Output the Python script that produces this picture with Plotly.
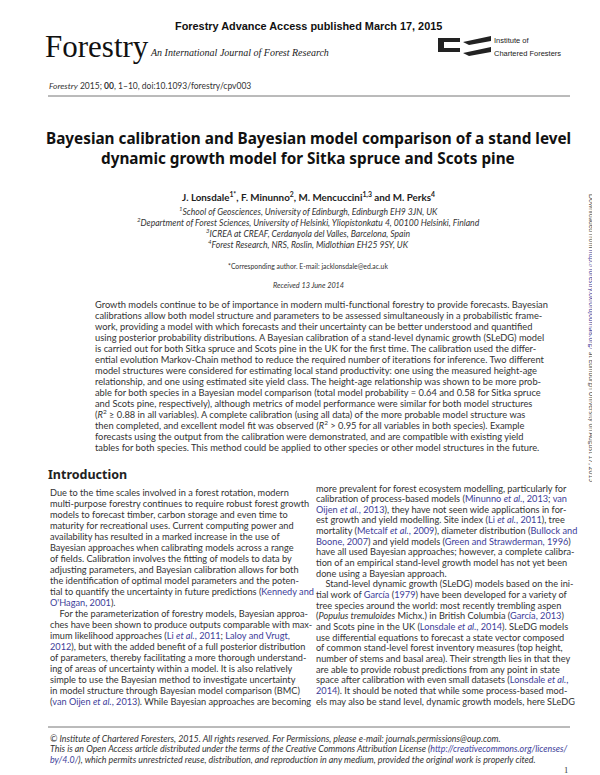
import plotly.graph_objects as go

BODY_FONT = "Lato"
LINK = "#3d3d99"
def L(t):
    return f"<span style='color:{LINK}'>{t}</span>"

header_lines = ["Forestry Advance Access published March 17, 2015"]
title_lines = ["Bayesian calibration and Bayesian model comparison of a stand level",
               "dynamic growth model for Sitka spruce and Scots pine"]
authors = "J. Lonsdale<sup>1*</sup>, F. Minunno<sup>2</sup>, M. Mencuccini<sup>1,3</sup> and M. Perks<sup>4</sup>"
affiliations = ["<sup>1</sup>School of Geosciences, University of Edinburgh, Edinburgh EH9 3JN, UK",
                "<sup>2</sup>Department of Forest Sciences, University of Helsinki, Yliopistonkatu 4, 00100 Helsinki, Finland",
                "<sup>3</sup>ICREA at CREAF, Cerdanyola del Valles, Barcelona, Spain",
                "<sup>4</sup>Forest Research, NRS, Roslin, Midlothian EH25 9SY, UK"]
abstract_lines = [
 "Growth models continue to be of importance in modern multi-functional forestry to provide forecasts. Bayesian",
 "calibrations allow both model structure and parameters to be assessed simultaneously in a probabilistic frame-",
 "work, providing a model with which forecasts and their uncertainty can be better understood and quantified",
 "using posterior probability distributions. A Bayesian calibration of a stand-level dynamic growth (SLeDG) model",
 "is carried out for both Sitka spruce and Scots pine in the UK for the first time. The calibration used the differ-",
 "ential evolution Markov-Chain method to reduce the required number of iterations for inference. Two different",
 "model structures were considered for estimating local stand productivity: one using the measured height-age",
 "relationship, and one using estimated site yield class. The height-age relationship was shown to be more prob-",
 "able for both species in a Bayesian model comparison (total model probability = 0.64 and 0.58 for Sitka spruce",
 "and Scots pine, respectively), although metrics of model performance were similar for both model structures",
 "(<i>R</i><sup>2</sup> ≥ 0.88 in all variables). A complete calibration (using all data) of the more probable model structure was",
 "then completed, and excellent model fit was observed (<i>R</i><sup>2</sup> > 0.95 for all variables in both species). Example",
 "forecasts using the output from the calibration were demonstrated, and are compatible with existing yield",
 "tables for both species. This method could be applied to other species or other model structures in the future.",
]
left_lines = [
 "Due to the time scales involved in a forest rotation, modern",
 "multi-purpose forestry continues to require robust forest growth",
 "models to forecast timber, carbon storage and even time to",
 "maturity for recreational uses. Current computing power and",
 "availability has resulted in a marked increase in the use of",
 "Bayesian approaches when calibrating models across a range",
 "of fields. Calibration involves the fitting of models to data by",
 "adjusting parameters, and Bayesian calibration allows for both",
 "the identification of optimal model parameters and the poten-",
 "tial to quantify the uncertainty in future predictions (" + L("Kennedy and"),
 L("O'Hagan, 2001") + ").",
 "    For the parameterization of forestry models, Bayesian approa-",
 "ches have been shown to produce outputs comparable with max-",
 "imum likelihood approaches (" + L("Li <i>et al.</i>, 2011") + "; " + L("Laloy and Vrugt,"),
 L("2012") + "), but with the added benefit of a full posterior distribution",
 "of parameters, thereby facilitating a more thorough understand-",
 "ing of areas of uncertainty within a model. It is also relatively",
 "simple to use the Bayesian method to investigate uncertainty",
 "in model structure through Bayesian model comparison (BMC)",
 "(" + L("van Oijen <i>et al.</i>, 2013") + "). While Bayesian approaches are becoming",
]
right_lines = [
 "more prevalent for forest ecosystem modelling, particularly for",
 "calibration of process-based models (" + L("Minunno <i>et al.</i>, 2013") + "; " + L("van"),
 L("Oijen <i>et al.</i>, 2013") + "), they have not seen wide applications in for-",
 "est growth and yield modelling. Site index (" + L("Li <i>et al.</i>, 2011") + "), tree",
 "mortality (" + L("Metcalf <i>et al.</i>, 2009") + "), diameter distribution (" + L("Bullock and"),
 L("Boone, 2007") + ") and yield models (" + L("Green and Strawderman, 1996") + ")",
 "have all used Bayesian approaches; however, a complete calibra-",
 "tion of an empirical stand-level growth model has not yet been",
 "done using a Bayesian approach.",
 "    Stand-level dynamic growth (SLeDG) models based on the ini-",
 "tial work of " + L("García") + " (" + L("1979") + ") have been developed for a variety of",
 "tree species around the world: most recently trembling aspen",
 "(<i>Populus tremuloides</i> Michx.) in British Columbia (" + L("García, 2013") + ")",
 "and Scots pine in the UK (" + L("Lonsdale <i>et al.</i>, 2014") + "). SLeDG models",
 "use differential equations to forecast a state vector composed",
 "of common stand-level forest inventory measures (top height,",
 "number of stems and basal area). Their strength lies in that they",
 "are able to provide robust predictions from any point in state",
 "space after calibration with even small datasets (" + L("Lonsdale <i>et al.</i>,"),
 L("2014") + "). It should be noted that while some process-based mod-",
 "els may also be stand level, dynamic growth models, here SLeDG",
]
footer_lines = [
 "© Institute of Chartered Foresters, 2015. All rights reserved. For Permissions, please e-mail: journals.permissions@oup.com.",
 "This is an Open Access article distributed under the terms of the Creative Commons Attribution License (" + L("http://creativecommons.org/licenses/"),
 L("by/4.0/") + "), which permits unrestricted reuse, distribution, and reproduction in any medium, provided the original work is properly cited.",
]
side_text = "Downloaded from " + L("http://forestry.oxfordjournals.org/") + " at Edinburgh University on August 17, 2015"

ann = []
def add(x, y, text, size, xanchor="left", color="#333", family=BODY_FONT, angle=0):
    ann.append(dict(x=x, y=y, xref="x", yref="y", text=text, showarrow=False,
                    xanchor=xanchor, yanchor="middle", align=xanchor if xanchor != "center" else "center",
                    font=dict(size=size, color=color, family=family), textangle=angle,
                    borderpad=0))

add(300, 18, "<b>" + header_lines[0] + "</b>", 10.9, "center", "#111", "Liberation Sans")
add(36, 38, "Forestry", 31, "left", "#111", "Liberation Serif")
add(141, 44, "<i>An International Journal of Forest Research</i>", 10, "left", "#222", "Liberation Serif")
add(485, 32, "Institute of", 7.5, "left", "#222", "Liberation Sans")
add(485, 45, "Chartered Foresters", 7.5, "left", "#222", "Liberation Sans")
add(40, 78, "<i>Forestry</i> 2015; <b>00</b>, 1–10, doi:10.1093/forestry/cpv003", 8.5, "left", "#333")
for i, t in enumerate(title_lines):
    add(300, 130 + i * 19.5, "<b>" + t + "</b>", 15.3, "center", "#111", "Noto Sans")
add(300, 188, "<b>" + authors + "</b>", 9.8, "center", "#222")
for i, t in enumerate(affiliations):
    add(300, 203 + i * 11.0, "<i>" + t + "</i>", 8.6, "center", "#333")
add(300, 258, "*Corresponding author. E-mail: jacklonsdale@ed.ac.uk", 6.8, "center", "#333")
add(300, 277, "<i>Received 13 June 2014</i>", 7.3, "center", "#333")
for i, t in enumerate(abstract_lines):
    add(86, 296 + i * 11.0, t, 9.3, "left", "#333")
add(39, 466, "<b>Introduction</b>", 12.5, "left", "#222", "Noto Sans")
for i, t in enumerate(left_lines):
    add(41, 484 + i * 11.0, t.replace("    ", "&nbsp;&nbsp;&nbsp;&nbsp;"), 9.2, "left", "#333")
for i, t in enumerate(right_lines):
    add(307, 480 + i * 10.65, t.replace("    ", "&nbsp;&nbsp;&nbsp;&nbsp;"), 9.2, "left", "#333")
for i, t in enumerate(footer_lines):
    add(41, 730 + i * 10.8, "<i>" + t + "</i>", 8.9, "left", "#333")
add(561, 762, "1", 8.5, "right", "#333", "Liberation Serif")
add(584, 330, side_text, 6.8, "center", "#555", BODY_FONT, angle=90)

shapes = [
    dict(type="line", x0=40, x1=562, y0=88, y1=88, line=dict(color="#777", width=1)),
    dict(type="line", x0=40, x1=562, y0=719, y1=719, line=dict(color="#777", width=1)),
    dict(type="path", path="M 430 30 L 452 30 L 452 34 L 436 34 L 436 40 L 452 40 L 452 44 L 430 44 Z",
         fillcolor="#222", line=dict(width=0)),
    dict(type="path", path="M 455 34 L 483 28 L 483 33 L 461 37 Z M 455 45 L 483 39 L 483 44 L 461 48 Z",
         fillcolor="#222", line=dict(width=0)),
]

fig = go.Figure()
fig.update_layout(width=600, height=775, margin=dict(l=0, r=0, t=0, b=0),
                  paper_bgcolor="white", plot_bgcolor="white",
                  xaxis=dict(range=[0, 600], visible=False, fixedrange=True),
                  yaxis=dict(range=[775, 0], visible=False, fixedrange=True),
                  annotations=ann, shapes=shapes, showlegend=False)
fig.write_html("out.html")
